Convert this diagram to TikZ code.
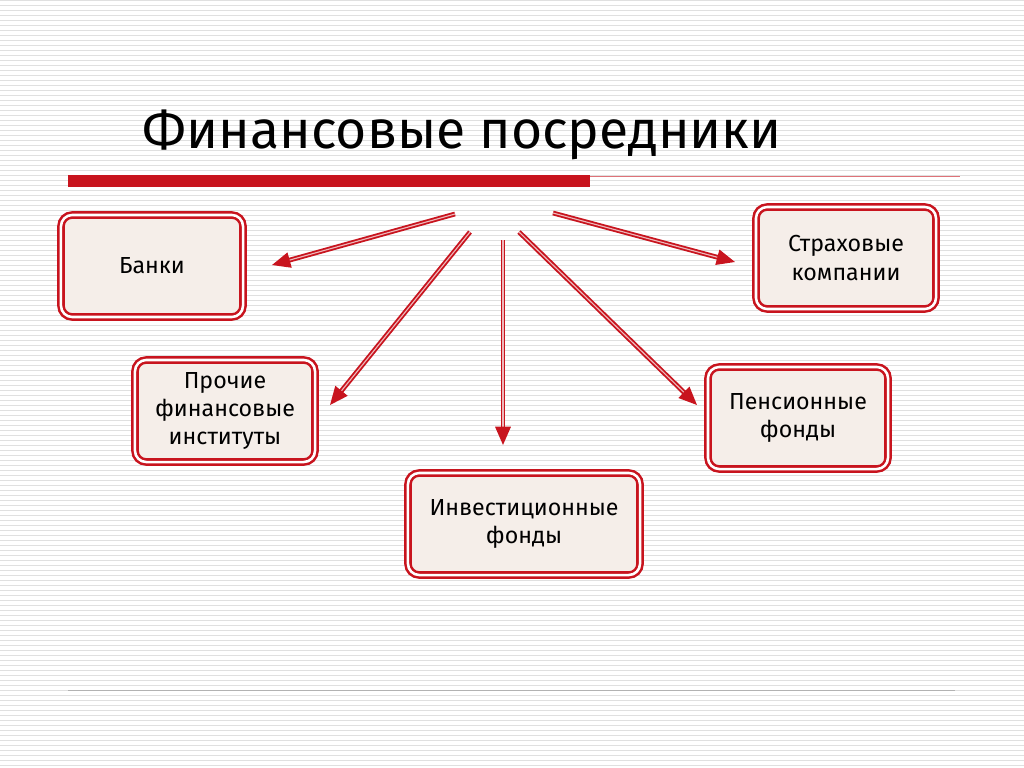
\documentclass[tikz,border=0pt]{standalone}
\usepackage{fontspec}
\setmainfont{Fira Sans}
\usetikzlibrary{positioning,arrows.meta}
\definecolor{boxred}{RGB}{200,20,30}
\definecolor{boxfill}{RGB}{245,238,233}
\tikzset{
  fbox/.style={draw=boxred, line width=1.8pt, double=white, double distance=1.8pt,
    fill=boxfill, rounded corners=8pt, minimum width=4.5cm, minimum height=2.55cm,
    align=center, font=\fontsize{16.5}{20}\selectfont},
  farrow/.style={draw=boxred, line width=1.3pt, double=white!70!boxred, double distance=0.8pt,
    -{Triangle[length=13pt,width=11pt,fill=boxred]}}
}
\begin{document}
\begin{tikzpicture}[x=0.025cm, y=-0.025cm]
  \useasboundingbox (0,0) rectangle (1024,768);
  \fill[white] (0,0) rectangle (1024,768);
  \foreach \y in {0,5,...,765}
    \draw[black!12, line width=0.6pt] (0,\y) -- (1024,\y);
  % title
  \node[anchor=west, font=\fontsize{38}{46}\selectfont] (title) at (138,135) {Финансовые посредники};
  \fill[boxred] (68,175) rectangle (590,187);
  \draw[boxred!60, line width=0.6pt] (590,176) -- (960,176);
  \draw[black!30, line width=0.6pt] (68,690) -- (955,690);
  % boxes
  \node[fbox, minimum width=4.55cm] (banki) at (152,266) {Банки};
  \node[fbox] (strah) at (846,258) {Страховые\\компании};
  \node[fbox] (proch) at (225,411) {Прочие\\финансовые\\институты};
  \node[fbox] (pens) at (798,418) {Пенсионные\\фонды};
  \node[fbox, minimum width=5.8cm] (invest) at (524,524) {Инвестиционные\\фонды};
  % arrow start points
  \coordinate (s1) at (455,214);
  \coordinate (s2) at (470,232);
  \coordinate (s3) at (503,240);
  \coordinate (s4) at (519,232);
  \coordinate (s5) at (553,213);
  \coordinate (e1) at (272,265);
  \coordinate (e2) at (330,405);
  \coordinate (e3) at (503,445);
  \coordinate (e4) at (697,405);
  \coordinate (e5) at (735,262);
  \foreach \i in {1,...,5}
    \draw[farrow] (s\i) -- (e\i);
\end{tikzpicture}
\end{document}
